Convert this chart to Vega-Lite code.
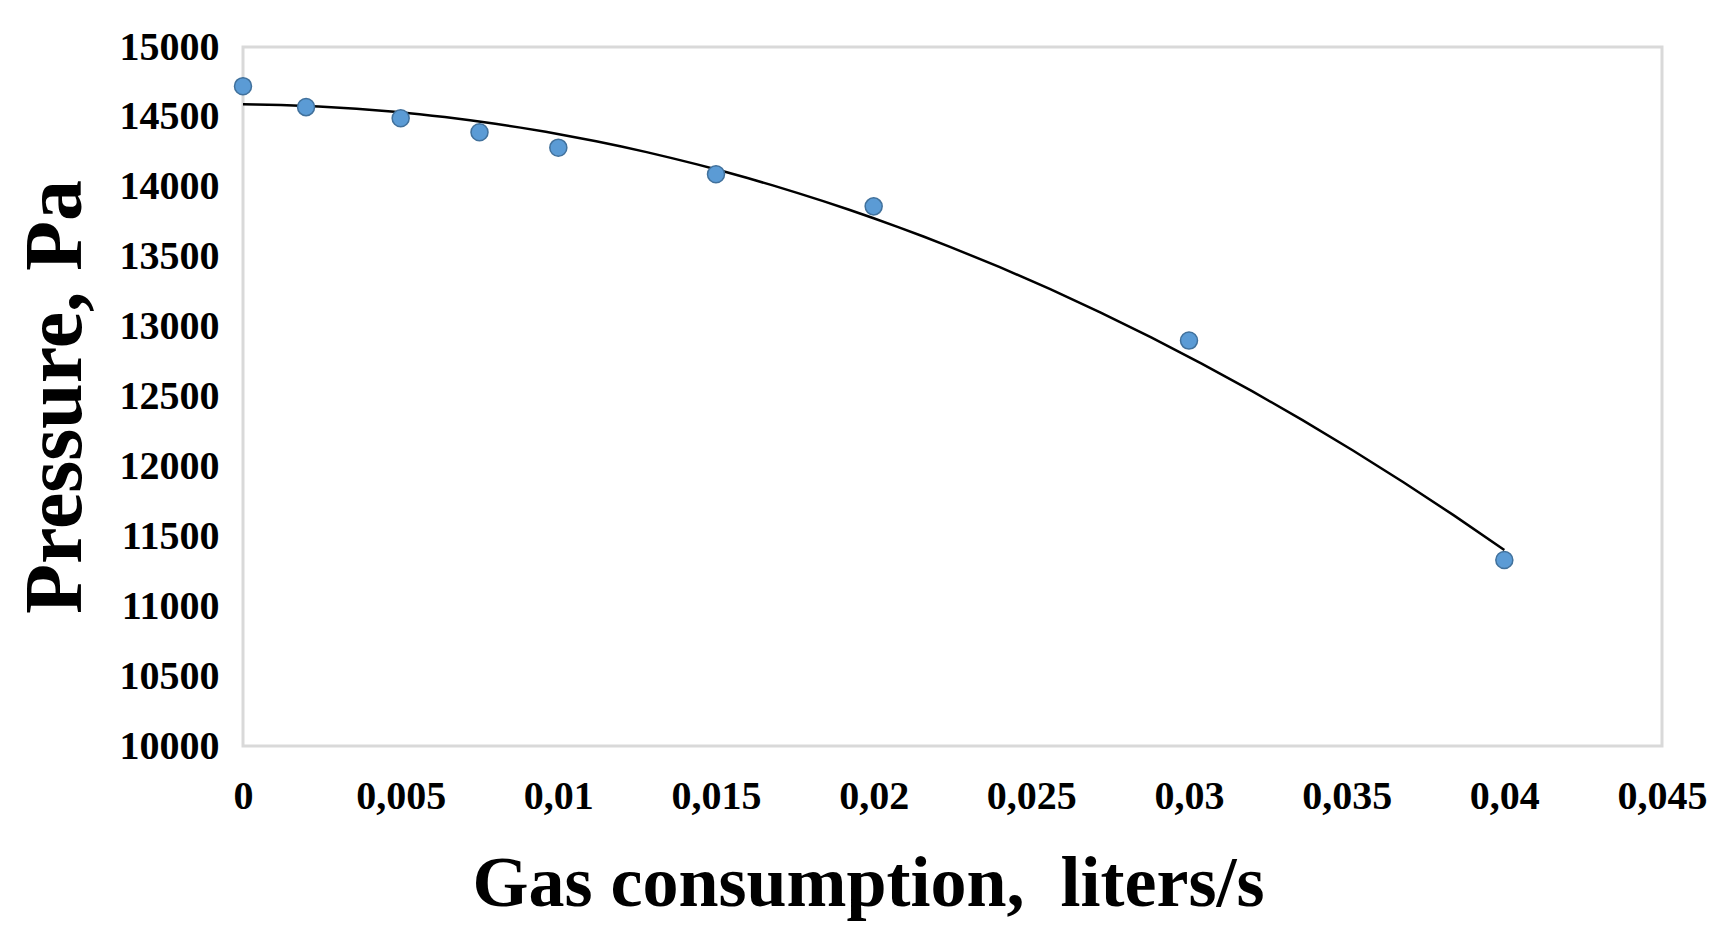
{
  "$schema": "https://vega.github.io/schema/vega-lite/v6.json",
  "autosize": "none",
  "width": 1419,
  "height": 699,
  "padding": {"left": 243, "top": 47, "right": 64, "bottom": 192},
  "background": "white",
  "data": {
    "values": [
      {"flow": 0.0, "pressure": 14720},
      {"flow": 0.002, "pressure": 14570},
      {"flow": 0.005, "pressure": 14490},
      {"flow": 0.0075, "pressure": 14390},
      {"flow": 0.01, "pressure": 14280},
      {"flow": 0.015, "pressure": 14090},
      {"flow": 0.02, "pressure": 13860},
      {"flow": 0.03, "pressure": 12900},
      {"flow": 0.04, "pressure": 11330}
    ]
  },
  "encoding": {
    "x": {
      "field": "flow",
      "type": "quantitative",
      "scale": {"domain": [0, 0.045], "nice": false, "zero": false},
      "axis": {
        "values": [0, 0.005, 0.01, 0.015, 0.02, 0.025, 0.03, 0.035, 0.04, 0.045],
        "labelExpr": "replace(format(datum.value, '.3~f'), '.', ',')",
        "labelFlush": false,
        "title": "Gas consumption,\u00a0 liters/s",
        "titleFontSize": 72,
        "titlePadding": 32,
        "titleX": 625,
        "labelPadding": 30,
        "labelFontSize": 40
      }
    },
    "y": {
      "field": "pressure",
      "type": "quantitative",
      "scale": {"domain": [10000, 15000], "nice": false, "zero": false},
      "axis": {
        "values": [10000, 10500, 11000, 11500, 12000, 12500, 13000, 13500, 14000, 14500, 15000],
        "format": "d",
        "labelFlush": false,
        "title": "Pressure, Pa",
        "titleFontSize": 82,
        "titlePadding": 22,
        "labelPadding": 24,
        "labelFontSize": 40
      }
    }
  },
  "layer": [
    {
      "transform": [
        {"regression": "pressure", "on": "flow", "method": "poly", "order": 2, "extent": [0, 0.04]}
      ],
      "mark": {"type": "line", "color": "black", "strokeWidth": 2.5}
    },
    {
      "mark": {"type": "point", "filled": true, "fill": "#5b9bd5", "stroke": "#41719c", "strokeWidth": 1.5, "opacity": 1, "size": 290}
    }
  ],
  "config": {
    "font": "Liberation Serif",
    "view": {"stroke": "#d9d9d9", "strokeWidth": 3},
    "axis": {
      "domain": false,
      "ticks": false,
      "grid": false,
      "labelFont": "Liberation Serif",
      "labelFontWeight": "bold",
      "labelColor": "black",
      "titleFont": "Liberation Serif",
      "titleFontWeight": "bold",
      "titleColor": "black"
    }
  }
}
